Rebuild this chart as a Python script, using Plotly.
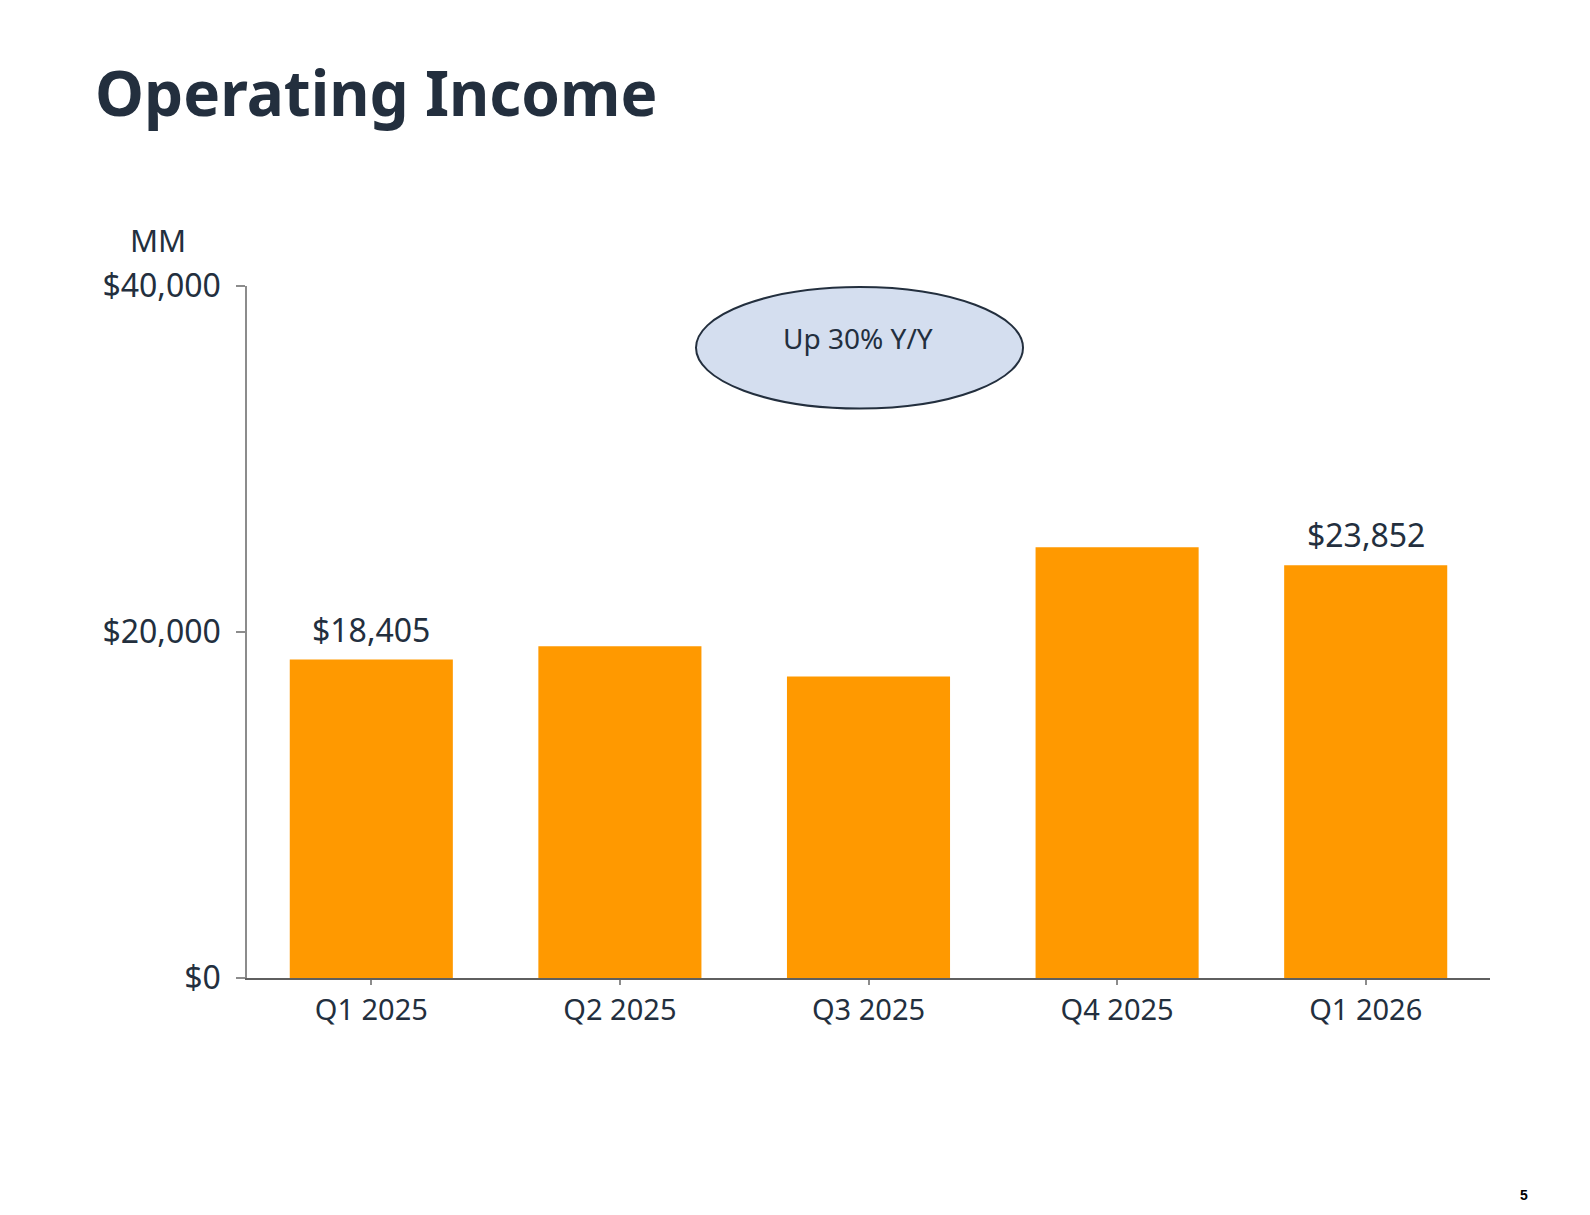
import plotly.graph_objects as go

categories = ["Q1 2025", "Q2 2025", "Q3 2025", "Q4 2025", "Q1 2026"]
values = [18405, 19171, 17422, 24900, 23852]
bar_labels = ["$18,405", "", "", "", "$23,852"]
y_tick_vals = [0, 20000, 40000]
y_tick_text = ["$0", "$20,000", "$40,000"]

TEXT = "#232F3E"
FONT = "Noto Sans"
W, H = 1590, 1215
L, R, T, B = 247, 100, 286, 237
PW, PH = W - L - R, H - T - B


def px(x):
    return (x - L) / PW


def py(y):
    return (H - B - y) / PH


fig = go.Figure(go.Bar(
    x=categories, y=values, marker=dict(color="#FF9900", line=dict(width=0)),
    hoverinfo="skip",
))

annotations = []
for c, v, t in zip(categories, values, bar_labels):
    if t:
        annotations.append(dict(x=c, y=v, xref="x", yref="y", text=t, showarrow=False,
                                yanchor="bottom", yshift=7,
                                font=dict(family=FONT, size=32, color=TEXT)))

annotations += [
    dict(x=px(93), y=py(92), xref="paper", yref="paper", text="<b>Operating Income</b>",
         showarrow=False, xanchor="left", yanchor="middle",
         font=dict(family=FONT, size=62, color=TEXT)),
    dict(x=px(158), y=py(240), xref="paper", yref="paper", text="MM", showarrow=False,
         xanchor="center", yanchor="middle", font=dict(family=FONT, size=31, color=TEXT)),
    dict(x=px(858), y=py(338), xref="paper", yref="paper", text="Up 30% Y/Y", showarrow=False,
         xanchor="center", yanchor="middle", font=dict(family=FONT, size=28, color=TEXT)),
    dict(x=px(1524), y=py(1195), xref="paper", yref="paper", text="<b>5</b>", showarrow=False,
         xanchor="center", yanchor="middle",
         font=dict(family="Liberation Sans", size=14, color="#000000")),
]

fig.update_layout(
    width=W, height=H, margin=dict(l=L, r=R, t=T, b=B, autoexpand=False),
    paper_bgcolor="white", plot_bgcolor="white", showlegend=False,
    bargap=0.344,
    font=dict(family=FONT, color=TEXT),
    annotations=annotations,
    shapes=[dict(type="circle", xref="paper", yref="paper",
                 x0=px(696), x1=px(1023), y0=py(408.5), y1=py(287),
                 fillcolor="#D4DEEF", line=dict(color=TEXT, width=2), layer="above")],
    xaxis=dict(showline=True, linecolor="#5f5f5f", linewidth=2, ticks="outside",
               ticklen=5, tickcolor="#8c8c8c", tickwidth=1.5,
               tickfont=dict(family=FONT, size=29, color=TEXT), showgrid=False,
               zeroline=False, fixedrange=True),
    yaxis=dict(range=[0, 40000], showline=True, linecolor="#8c8c8c", linewidth=1.5,
               ticks="outside", ticklen=9, tickcolor="#8c8c8c", tickwidth=1.5,
               tickvals=y_tick_vals, ticktext=y_tick_text, ticklabelstandoff=9,
               tickfont=dict(family=FONT, size=32, color=TEXT), showgrid=False,
               zeroline=False, fixedrange=True),
)

fig.write_html("out.html", config=dict(displayModeBar=False))
